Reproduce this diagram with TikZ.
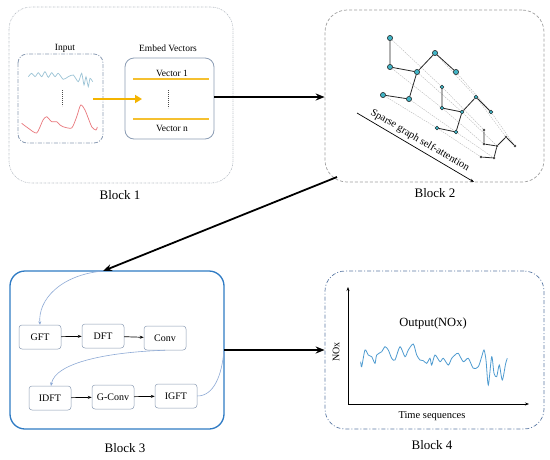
\documentclass[tikz,border=0pt]{standalone}
\usepackage{fontspec}
\setmainfont{Liberation Serif}
\usetikzlibrary{arrows.meta}
\definecolor{blkgray}{HTML}{A6AEB8}
\definecolor{boxblue}{HTML}{8C9DB5}
\definecolor{b3blue}{HTML}{2F7BC4}
\definecolor{b4blue}{HTML}{5E7CA6}
\definecolor{sigblue}{HTML}{9CC4D6}
\definecolor{sigred}{HTML}{E9777C}
\definecolor{arrorange}{HTML}{F4B400}
\definecolor{vecyellow}{HTML}{F5C030}
\definecolor{teal}{HTML}{40B4C6}
\definecolor{curveblue}{HTML}{8EAAD6}
\definecolor{outsig}{HTML}{4E9BD0}
\tikzset{
  bigarrow/.style={line width=1.8pt,-{Stealth[length=9pt,width=7pt]}},
  stagebox/.style={draw=boxblue,rounded corners=3pt,line width=0.5pt,minimum width=42pt,minimum height=24pt,inner sep=0pt,font=\fontsize{10}{12}\selectfont},
  smallarrow/.style={line width=0.7pt,-{Stealth[length=4pt,width=3pt]}},
  flowcurve/.style={curveblue,line width=0.6pt},
  bigdot/.style={circle,fill=teal,draw=black!80,line width=0.5pt,inner sep=0pt,minimum size=5pt},
  middot/.style={circle,fill=teal,draw=black!80,line width=0.4pt,inner sep=0pt,minimum size=3.6pt},
  smalldot/.style={circle,fill=black!75,inner sep=0pt,minimum size=2.6pt},
  gedge/.style={line width=0.8pt,black!85},
  ghost/.style={gray!60,line width=0.35pt,dash pattern=on 1.5pt off 1pt},
  blocklabel/.style={font=\fontsize{13}{15}\selectfont},
  vecline/.style={vecyellow,line width=1.3pt},
}
\begin{document}
\begin{tikzpicture}[x=1pt,y=-1pt]
\useasboundingbox[fill=white] (0,0) rectangle (550,459);

% ---------- Block 1 ----------
\draw[blkgray!80,line width=0.6pt,dash pattern=on 1.5pt off 1pt on 0.5pt off 1pt,rounded corners=22pt] (9,7) rectangle (233,183);
\node[blocklabel] (l1) at (120,195) {Block 1};
\draw[boxblue,line width=0.8pt,dash pattern=on 4pt off 1.5pt on 1pt off 1.5pt,rounded corners=9pt] (18,54) rectangle (103,143);
\node[font=\fontsize{9.5}{11}\selectfont] (inl) at (65,48) {Input};
\node[draw=boxblue,line width=0.8pt,rounded corners=9pt,minimum width=89pt,minimum height=81pt,inner sep=0pt] (emb) at (169.5,98.5) {};
\node[font=\fontsize{9.5}{11}\selectfont] (embl) at (168,48) {Embed Vectors};
\draw[vecline] (133,79) -- (209,79);
\draw[vecline] (133,119) -- (209,119);
\node[font=\fontsize{9.5}{11}\selectfont] (v1) at (172,73.5) {Vector 1};
\node[font=\fontsize{9.5}{11}\selectfont] (vn) at (172,128) {Vector n};
\draw[black!70,line width=0.7pt,dash pattern=on 0.7pt off 1.3pt] (168,90) -- (168,108);
\draw[black!70,line width=0.7pt,dash pattern=on 0.7pt off 1.3pt] (62,90) -- (62,106);
\draw[sigblue,line width=0.7pt] plot[smooth,tension=0.4] coordinates {(28.3,76.7) (31.7,73.3) (35,76.7) (38.3,72.7) (41.7,76.7) (45,71.7) (48.3,77.3) (51.7,72.7) (55,76.7) (58.3,73.3) (63.3,79.3) (68.3,76.7) (73.3,75) (78.3,81.7) (81.7,73.3) (84,85) (86,76.7) (88.3,86.7) (90,78.3) (92.7,81.7)};
\draw[sigred,line width=0.7pt] plot[smooth,tension=0.4] coordinates {(21.7,123.3) (28,128) (36.7,133) (43,120) (46.7,116.7) (51.7,121.7) (56.7,121.7) (60,125) (63,126.7) (71.7,128) (76.7,116.7) (80.7,105) (85,110) (91.7,126.7) (96,130) (97.3,127)};
\coordinate (oa) at (93,99);
\coordinate (ob) at (142,99);
\draw[arrorange,line width=2pt,-{Triangle[length=7pt,width=8pt]}] (oa) -- (ob);

% ---------- Block 2 ----------
\node[draw=gray!75,line width=0.7pt,dash pattern=on 3pt off 2pt,rounded corners=22pt,minimum width=219pt,minimum height=172pt,inner sep=0pt] (b2) at (434.5,96) {};
\node[blocklabel] (l2) at (435,193) {Block 2};
% graph copies
\node[bigdot] (A1) at (390,38) {};
\node[bigdot] (B1) at (390,67) {};
\node[bigdot] (C1) at (417,72) {};
\node[bigdot] (D1) at (435,53) {};
\node[bigdot] (E1) at (456,72) {};
\node[bigdot] (F1) at (383,95) {};
\node[bigdot] (G1) at (409,99) {};
\node[middot] (A2) at (442,87) {};
\node[middot] (B2) at (442,108) {};
\node[middot] (C2) at (462,112) {};
\node[middot] (D2) at (476,97) {};
\node[middot] (E2) at (491,112) {};
\node[middot] (F2) at (437,128) {};
\node[middot] (G2) at (456,132) {};
\node[smalldot] (A3) at (484,130) {};
\node[smalldot] (B3) at (484,144) {};
\node[smalldot] (C3) at (497,146) {};
\node[smalldot] (D3) at (506,137) {};
\node[smalldot] (E3) at (515,146) {};
\node[smalldot] (F3) at (481,157) {};
\node[smalldot] (G3) at (494,158) {};
\foreach \n in {A,B,C,D,E,F,G}{
  \draw[ghost] (\n1) -- (\n2);
  \draw[ghost] (\n2) -- (\n3);
}
\foreach \i in {1,2,3}{
  \draw[gedge] (A\i) -- (B\i) -- (C\i) -- (D\i) -- (E\i);
  \draw[gedge] (C\i) -- (G\i) -- (F\i);
}
% redraw dots on top
\node[bigdot] at (A1) {};\node[bigdot] at (B1) {};\node[bigdot] at (C1) {};\node[bigdot] at (D1) {};
\node[bigdot] at (E1) {};\node[bigdot] at (F1) {};\node[bigdot] at (G1) {};
\node[middot] at (A2) {};\node[middot] at (B2) {};\node[middot] at (C2) {};\node[middot] at (D2) {};
\node[middot] at (E2) {};\node[middot] at (F2) {};\node[middot] at (G2) {};
\coordinate (sa) at (357,113);
\coordinate (sb) at (474,182);
\draw[line width=0.7pt,-{Stealth[length=4pt,width=3pt]}] (sa) -- (sb);
\node[rotate=-30.5,font=\fontsize{10.5}{12}\selectfont,inner sep=0pt] (sgl) at (420,140.5) {Sparse graph self-attention};

% ---------- Block 3 ----------
\node[draw=b3blue,line width=1.3pt,rounded corners=15pt,minimum width=214pt,minimum height=158pt,inner sep=0pt] (b3) at (117,350) {};
\node[blocklabel] (l3) at (125,448) {Block 3};
\node[stagebox] (gft) at (40,337) {GFT};
\node[stagebox] (dft) at (103,336) {DFT};
\node[stagebox] (conv) at (165,338) {Conv};
\node[stagebox] (idft) at (50,398) {IDFT};
\node[stagebox] (gconv) at (113,397) {G-Conv};
\node[stagebox] (igft) at (176,396) {IGFT};
\draw[smallarrow] (gft) -- (dft);
\draw[smallarrow] (dft) -- (conv);
\draw[smallarrow] (idft) -- (gconv);
\draw[smallarrow] (gconv) -- (igft);
\coordinate (b3top) at (103,271);
\coordinate (b3right) at (224,350);
\draw[flowcurve,-{Stealth[length=3.5pt,width=3pt]}] (b3top) .. controls (60,275) and (38,300) .. (gft.north);
\draw[flowcurve,-{Stealth[length=3.5pt,width=3pt]}] (conv.south) .. controls (110,352) and (55,362) .. (51,386);
\draw[flowcurve] (igft.east) .. controls (214,396) and (222,375) .. (b3right);

% ---------- Block 4 ----------
\node[draw=b4blue,line width=0.7pt,dash pattern=on 4pt off 2pt on 1pt off 2pt,rounded corners=20pt,minimum width=219pt,minimum height=158pt,inner sep=0pt] (b4) at (434.5,350) {};
\node[blocklabel] (l4) at (432,445) {Block 4};
\coordinate (org) at (348,404);
\coordinate (ytop) at (348,287);
\coordinate (xend) at (529,404);
\draw[line width=0.7pt,-{Stealth[length=4pt,width=3pt]}] (org) -- (ytop);
\draw[line width=0.7pt,-{Stealth[length=4pt,width=3pt]}] (org) -- (xend);
\node[rotate=90,font=\fontsize{10}{12}\selectfont] (nox) at (336,352) {NOx};
\node[font=\fontsize{12.5}{14}\selectfont] (outl) at (433,323) {Output(NOx)};
\node[font=\fontsize{10.5}{12}\selectfont] (tsl) at (432,416) {Time sequences};
\draw[outsig,line width=0.8pt] plot[smooth,tension=0.45] coordinates {(360.7,361.7) (361.7,366.7) (365,350) (368.3,355) (371.7,356.7) (375,363.3) (376.7,355) (381.7,351.7) (385,346.7) (388.3,350) (391.7,358.3) (395,360) (400,346.7) (405,356.7) (408.3,350) (413.3,344) (416.7,355) (420,360) (423.3,360.7) (426.7,363.3) (430,358.3) (431.7,365) (435,355) (440,361.7) (443.3,358.3) (448.3,365) (451.7,358.3) (455,355) (458.3,353.3) (463.3,361.7) (468.3,358.3) (473.3,368.3) (478.3,366.7) (481.7,356.7) (484,350) (486,360) (488.3,385) (491.7,356.7) (494,373.3) (496.7,376.7) (499.3,365) (502.3,380) (505.7,363.3) (507.3,358.3)};

% ---------- main connectors ----------
\coordinate (b2corner) at (337,177);
\coordinate (e1) at (214,97);
\draw[bigarrow] (e1) -- (e1 -| b2.west);
\draw[bigarrow] (b2corner) -- (b3top);
\draw[bigarrow] (b3right) -- (b4.west);
\end{tikzpicture}
\end{document}
